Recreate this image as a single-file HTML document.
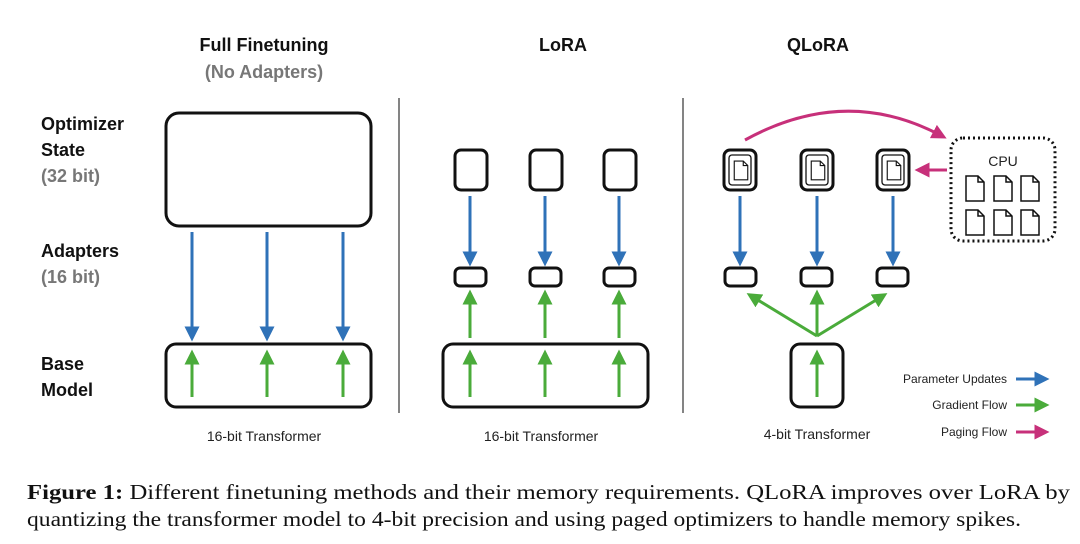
<!DOCTYPE html>
<html><head><meta charset="utf-8"><style>
body{margin:0;background:#fff;width:1080px;height:544px;overflow:hidden}
svg{display:block}
.b{font-family:"Liberation Sans",sans-serif;font-weight:bold;font-size:18px;fill:#111}
.g{fill:#777}
.s{font-family:"Liberation Sans",sans-serif;font-size:14px;fill:#222}
.l{font-family:"Liberation Sans",sans-serif;font-size:12px;fill:#222}
.c{font-family:"Liberation Serif",serif;font-size:21px;fill:#111}
</style></head><body>
<svg width="1080" height="544" viewBox="0 0 1080 544">
<defs>
<marker id="ab" viewBox="0 0 10 10" refX="5" refY="5" markerWidth="5" markerHeight="5" orient="auto"><path d="M0,0L10,5L0,10z" fill="#2f72b8"/></marker>
<marker id="ag" viewBox="0 0 10 10" refX="5" refY="5" markerWidth="5" markerHeight="5" orient="auto"><path d="M0,0L10,5L0,10z" fill="#4aab3a"/></marker>
<marker id="ap" viewBox="0 0 10 10" refX="5" refY="5" markerWidth="5" markerHeight="5" orient="auto"><path d="M0,0L10,5L0,10z" fill="#c7307a"/></marker>
<g id="doc"><path d="M-9,-12h12l6,6v19h-18z M3,-12v6h6" fill="none" stroke="#111" stroke-width="1.5"/></g>
</defs>
<text class="b" x="264" y="51" text-anchor="middle">Full Finetuning</text>
<text class="b g" x="264" y="78" text-anchor="middle">(No Adapters)</text>
<text class="b" x="563" y="51" text-anchor="middle">LoRA</text>
<text class="b" x="818" y="51" text-anchor="middle">QLoRA</text>
<text class="b" x="41" y="130">Optimizer</text>
<text class="b" x="41" y="156">State</text>
<text class="b g" x="41" y="182">(32 bit)</text>
<text class="b" x="41" y="257">Adapters</text>
<text class="b g" x="41" y="283">(16 bit)</text>
<text class="b" x="41" y="370">Base</text>
<text class="b" x="41" y="396">Model</text>
<line x1="399" y1="98" x2="399" y2="413" stroke="#333" stroke-width="1.2"/>
<line x1="683" y1="98" x2="683" y2="413" stroke="#333" stroke-width="1.2"/>
<g fill="none" stroke="#111" stroke-width="3">
<rect x="166" y="113" width="205" height="113" rx="13"/>
<rect x="166" y="344" width="205" height="63" rx="10"/>
<rect x="455" y="150" width="32" height="40" rx="6"/><rect x="530" y="150" width="32" height="40" rx="6"/><rect x="604" y="150" width="32" height="40" rx="6"/>
<rect x="455" y="268" width="31" height="18" rx="5"/><rect x="530" y="268" width="31" height="18" rx="5"/><rect x="604" y="268" width="31" height="18" rx="5"/>
<rect x="443" y="344" width="205" height="63" rx="10"/>
<rect x="724" y="150" width="32" height="40" rx="6"/><rect x="801" y="150" width="32" height="40" rx="6"/><rect x="877" y="150" width="32" height="40" rx="6"/>
<rect x="725" y="268" width="31" height="18" rx="5"/><rect x="801" y="268" width="31" height="18" rx="5"/><rect x="877" y="268" width="31" height="18" rx="5"/>
<rect x="791" y="344" width="52" height="63" rx="9"/>
</g>
<g fill="none" stroke="#111" stroke-width="1.3">
<rect x="729" y="155" width="22" height="30" rx="3"/><rect x="806" y="155" width="22" height="30" rx="3"/><rect x="882" y="155" width="22" height="30" rx="3"/>
</g>
<rect x="951" y="138" width="104" height="103" rx="12" fill="none" stroke="#111" stroke-width="3" stroke-dasharray="2 3"/>
<text class="s" x="1003" y="166" text-anchor="middle" font-size="13">CPU</text>
<g transform="translate(741,170) scale(0.75)"><use href="#doc"/></g>
<g transform="translate(818,170) scale(0.75)"><use href="#doc"/></g>
<g transform="translate(894,170) scale(0.75)"><use href="#doc"/></g>
<use href="#doc" x="975" y="188"/><use href="#doc" x="1003" y="188"/><use href="#doc" x="1030" y="188"/>
<use href="#doc" x="975" y="222"/><use href="#doc" x="1003" y="222"/><use href="#doc" x="1030" y="222"/>
<g stroke="#2f72b8" stroke-width="3" marker-end="url(#ab)">
<line x1="192" y1="232" x2="192" y2="334"/><line x1="267" y1="232" x2="267" y2="334"/><line x1="343" y1="232" x2="343" y2="334"/>
<line x1="470" y1="196" x2="470" y2="259"/><line x1="545" y1="196" x2="545" y2="259"/><line x1="619" y1="196" x2="619" y2="259"/>
<line x1="740" y1="196" x2="740" y2="259"/><line x1="817" y1="196" x2="817" y2="259"/><line x1="893" y1="196" x2="893" y2="259"/>
<line x1="1016" y1="379" x2="1042" y2="379"/>
</g>
<g stroke="#4aab3a" stroke-width="3" marker-end="url(#ag)">
<line x1="192" y1="397" x2="192" y2="357"/><line x1="267" y1="397" x2="267" y2="357"/><line x1="343" y1="397" x2="343" y2="357"/>
<line x1="470" y1="397" x2="470" y2="357"/><line x1="545" y1="397" x2="545" y2="357"/><line x1="619" y1="397" x2="619" y2="357"/>
<line x1="470" y1="338" x2="470" y2="297"/><line x1="545" y1="338" x2="545" y2="297"/><line x1="619" y1="338" x2="619" y2="297"/>
<line x1="817" y1="397" x2="817" y2="357"/>
<line x1="817" y1="336" x2="817" y2="297"/><line x1="817" y1="336" x2="753" y2="297"/><line x1="817" y1="336" x2="881" y2="297"/>
<line x1="1016" y1="405" x2="1042" y2="405"/>
</g>
<g stroke="#c7307a" stroke-width="3" fill="none" marker-end="url(#ap)">
<path d="M745,140 Q845,85 940,135"/>
<line x1="947" y1="170" x2="922" y2="170"/>
<line x1="1016" y1="432" x2="1042" y2="432"/>
</g>
<text class="l" x="1007" y="383" text-anchor="end">Parameter Updates</text>
<text class="l" x="1007" y="409" text-anchor="end">Gradient Flow</text>
<text class="l" x="1007" y="436" text-anchor="end">Paging Flow</text>
<text class="s" x="264" y="441" text-anchor="middle">16-bit Transformer</text>
<text class="s" x="541" y="441" text-anchor="middle">16-bit Transformer</text>
<text class="s" x="817" y="439" text-anchor="middle">4-bit Transformer</text>
<text class="c" x="27" y="499" textLength="1043" lengthAdjust="spacingAndGlyphs"><tspan font-weight="bold">Figure 1:</tspan> Different finetuning methods and their memory requirements. QLoRA improves over LoRA by</text>
<text class="c" x="27" y="526" textLength="994" lengthAdjust="spacingAndGlyphs">quantizing the transformer model to 4-bit precision and using paged optimizers to handle memory spikes.</text>
</svg>
</body></html>
